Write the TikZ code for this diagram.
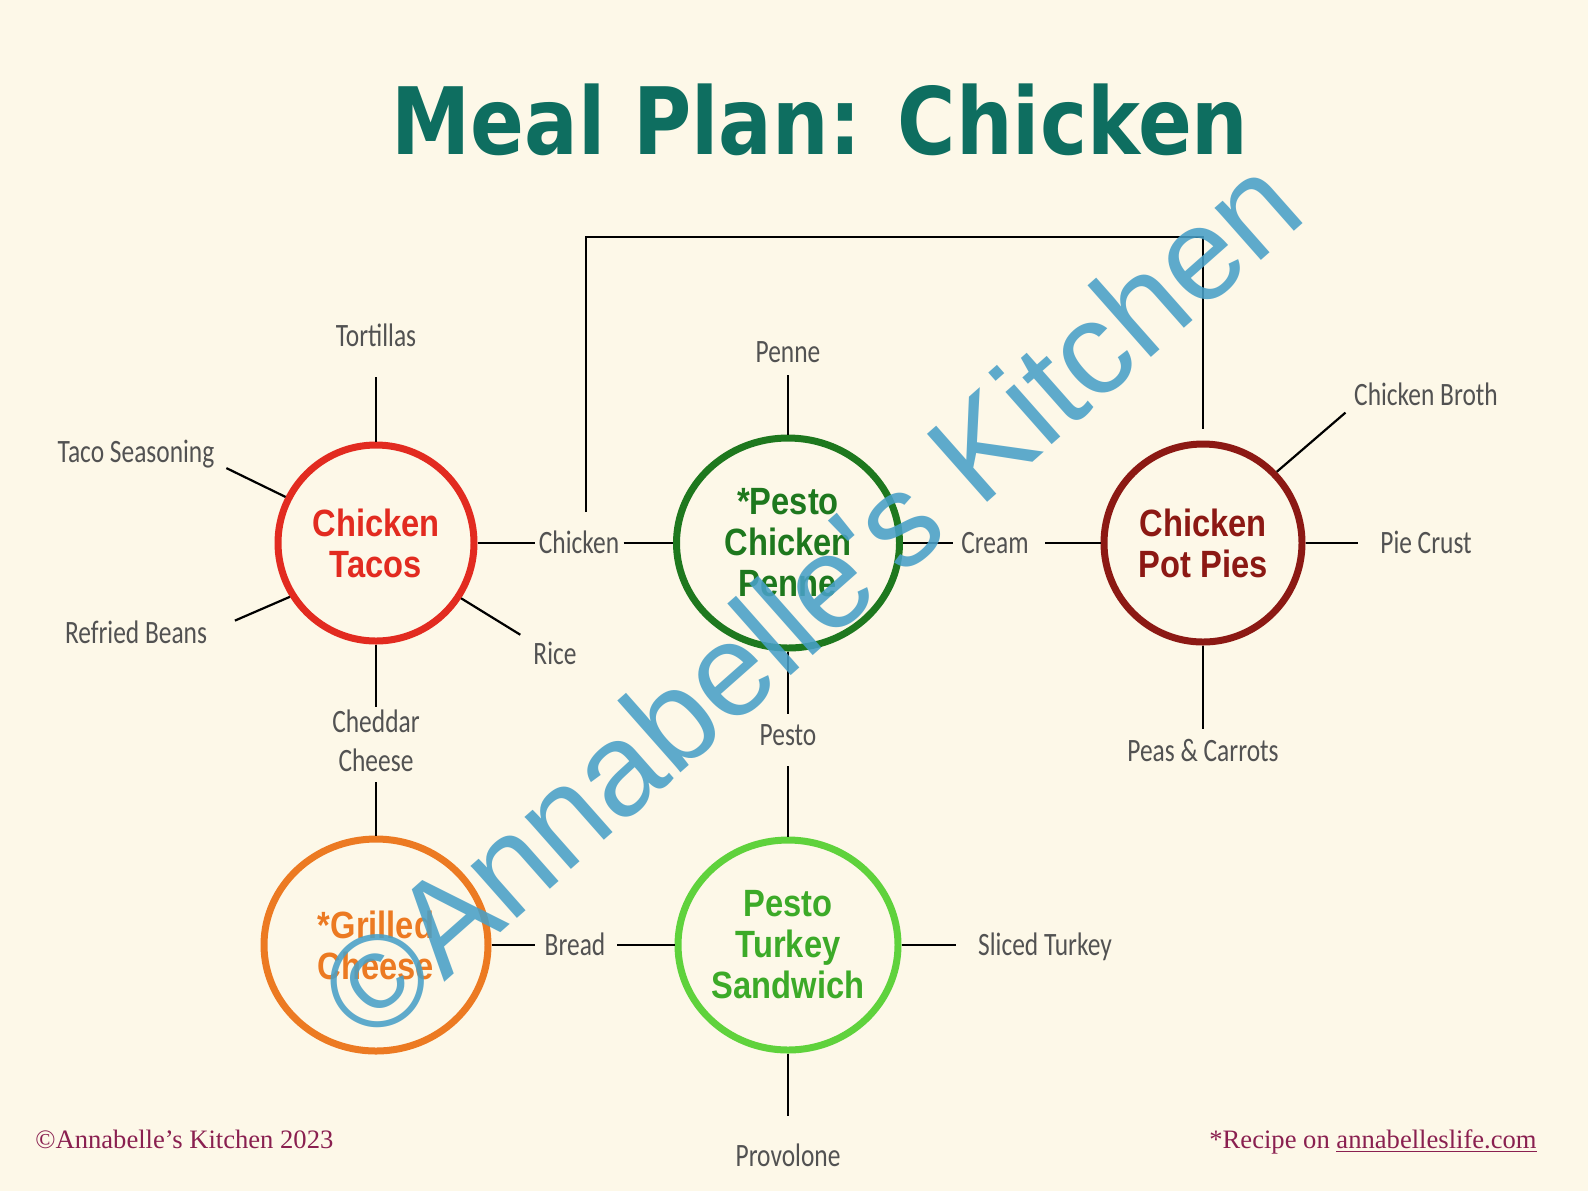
\documentclass[tikz,border=0pt]{standalone}
\usepackage{fontspec}
\setmainfont{Liberation Sans}
\newfontfamily\dishfont{Liberation Sans}[FakeStretch=0.86]
\newfontfamily\lblfont{Carlito}[FakeStretch=0.78]
\newfontfamily\titlefont{DejaVu Sans}[FakeStretch=0.855]
\newfontfamily\footfont{Liberation Serif}
\newfontfamily\wmfont{Liberation Sans}[Ligatures=TeXOff]
\usetikzlibrary{shapes.geometric, positioning, calc}

\definecolor{bgcream}{RGB}{253, 248, 232}
\definecolor{titleteal}{RGB}{14, 110, 96}
\definecolor{lblgray}{RGB}{82, 82, 82}
\definecolor{footred}{RGB}{138, 32, 80}
\definecolor{wmblue}{RGB}{72, 160, 200}
\definecolor{tacored}{RGB}{226, 43, 32}
\definecolor{pennegreen}{RGB}{30, 120, 30}
\definecolor{piered}{RGB}{140, 25, 20}
\definecolor{grillorange}{RGB}{236, 122, 34}
\definecolor{sandgreen}{RGB}{95, 210, 60}
\definecolor{sandtext}{RGB}{60, 170, 40}

\tikzset{
  dish/.style={ellipse, draw=#1, line width=3.5pt, inner sep=0pt, align=center,
    font=\dishfont\bfseries\fontsize{19}{20.5}\selectfont},
  ingr/.style={font=\lblfont\fontsize{16.3}{19.5}\selectfont, text=lblgray,
    inner sep=0pt, anchor=base, text height=10.5pt, text depth=0pt},
  link/.style={line width=1.1pt, black},
  foot/.style={font=\footfont\fontsize{13.3}{15}\selectfont, text=footred, inner sep=0pt}
}

\begin{document}
\begin{tikzpicture}[x=0.5pt, y=-0.5pt]
  \fill[bgcream] (0,0) rectangle (1588,1191);

  \node[font=\titlefont\bfseries\fontsize{46.5}{50}\selectfont, text=titleteal,
    anchor=base, inner sep=0pt] (title) at (820,154) {Meal Plan: Chicken};

  % dishes
  \node[dish=tacored, text=tacored, minimum width=98pt, minimum height=98pt] (tacos) at (376,543) {Chicken\\Tacos};
  \node[dish=pennegreen, text=pennegreen, minimum width=111.5pt, minimum height=105pt] (penne) at (788,543) {*Pesto\\Chicken\\Penne};
  \node[dish=piered, text=piered, minimum width=99pt, minimum height=99pt] (pies) at (1203,543) {Chicken\\Pot Pies};
  \node[dish=grillorange, text=grillorange, minimum width=112pt, minimum height=106pt] (grill) at (376,945) {*Grilled\\Cheese};
  \node[dish=sandgreen, text=sandtext, minimum width=110pt, minimum height=105pt] (sand) at (788,945) {Pesto\\Turkey\\Sandwich};

  % ingredients
  \node[ingr] (tort) at (376,346) {Tortillas};
  \node[ingr] (tseas) at (136,462) {Taco Seasoning};
  \node[ingr] (rbeans) at (136,643) {Refried Beans};
  \node[ingr] (rice) at (555,664) {Rice};
  \node[ingr, text height=, text depth=, anchor=center, align=center] (chd) at (376,741) {Cheddar\\Cheese};
  \node[ingr] (chk) at (579,553.5) {Chicken};
  \node[ingr] (pen) at (788,362) {Penne};
  \node[ingr] (crm) at (995,553.5) {Cream};
  \node[ingr] (pes) at (788,745) {Pesto};
  \node[ingr] (broth) at (1426,405) {Chicken Broth};
  \node[ingr] (crust) at (1426,553.5) {Pie Crust};
  \node[ingr] (peas) at (1203,761) {Peas \& Carrots};
  \node[ingr] (brd) at (575,955.5) {Bread};
  \node[ingr] (turkey) at (1045,955.5) {Sliced Turkey};
  \node[ingr] (prov) at (788,1166) {Provolone};

  \coordinate (topl) at (586,237);
  \coordinate (topr) at (topl -| pies.north);

  \draw[link, shorten >=15.5pt] (tacos.north) -- (tort.south);
  \draw[link, shorten >=6.5pt] (tacos.153) -- (tseas.south east);
  \draw[link, shorten >=15pt] (tacos.212) -- (rbeans.east);
  \draw[link, shorten >=7.5pt] (tacos.-33) -- (rice.north west);
  \draw[link, shorten >=1.5pt] (tacos.south) -- (chd.north);
  \draw[link, shorten <=5pt] (chd.south) -- (grill.north);
  \draw[link, shorten >=1.75pt] (tacos.east) -- (chk.west);
  \draw[link, shorten <=2pt] (chk.east) -- (penne.west);
  \draw[link, line width=1pt, shorten <=10pt, shorten >=6pt] (chk.north -| topl) -- (topl) -- (topr) -- (pies.north);
  \draw[link, shorten >=6.5pt] (penne.north) -- (pen.south);
  \draw[link, shorten >=4pt] (penne.east) -- (crm.west);
  \draw[link, shorten <=8pt] (crm.east) -- (pies.west);
  \draw[link, shorten >=5pt] (penne.south) -- (pes.north);
  \draw[link, shorten <=10.5pt] (pes.south) -- (sand.north);
  \draw[link, shorten >=5.5pt] (pies.44) -- (broth.south west);
  \draw[link, shorten >=11pt] (pies.east) -- (crust.west);
  \draw[link, shorten >=5.5pt] (pies.south) -- (peas.north);
  \draw[link, shorten >=4.75pt] (grill.east) -- (brd.west);
  \draw[link, shorten <=5.75pt] (brd.east) -- (sand.west);
  \draw[link, shorten >=11pt] (sand.east) -- (turkey.west);
  \draw[link, shorten >=14.5pt] (sand.south) -- (prov.north);

  \node[foot, anchor=base west] (copy) at (35,1148) {©Annabelle’s Kitchen 2023};
  \node[foot, anchor=base east] (recipe) at (1537,1148) {*Recipe on \underline{annabelleslife.com}};

  \node[font=\wmfont\fontsize{66}{66}\selectfont, text=wmblue, opacity=0.88,
    rotate=41.5, inner sep=0pt] (wm) at (809,597) {©Annabelle's Kitchen};
\end{tikzpicture}
\end{document}
